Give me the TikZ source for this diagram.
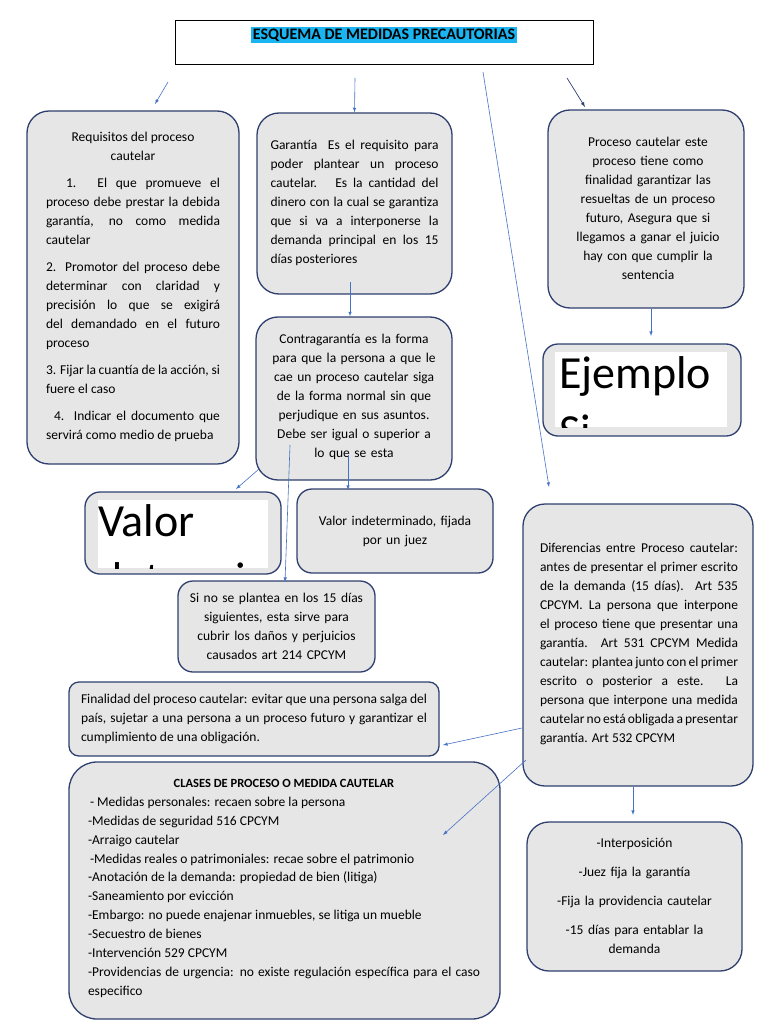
\documentclass[tikz,border=0pt]{standalone}
\usepackage{fontspec}
\setmainfont{Carlito}
\hyphenpenalty=10000
\exhyphenpenalty=10000
\begin{document}
\begin{tikzpicture}[x=1pt,y=-1pt,
 box/.style={draw=navy,line width=1.3pt,fill=boxgray,rounded corners=22pt,inner sep=0pt},
 txt/.style={font=\fontsize{13.5}{19}\selectfont,inner sep=0pt},
 arr/.style={-latex,draw=arrblue,line width=0.6pt}]
\definecolor{navy}{HTML}{2F3F6F}
\definecolor{boxgray}{HTML}{E6E6E6}
\definecolor{arrblue}{HTML}{4472C4}
\useasboundingbox (0,0) rectangle (768,1024);
% title
\node[draw=black,line width=0.6pt,minimum width=418pt,minimum height=44pt] (title) at (384,42) {};
\node[fill=cyan!90!white,inner sep=1.5pt,font=\bfseries\fontsize{16}{18}\selectfont] (tt) at (384,35) {ESQUEMA DE MEDIDAS PRECAUTORIAS};
% boxes
\node[box,minimum width=212pt,minimum height=353pt] (req) at (133,287.5) {};
\node[txt,text width=174pt,align=justify] at (133,287) {%
{\centering Requisitos del proceso\\ cautelar\par}\vspace{8pt}
\hspace*{20pt}1. El que promueve el proceso debe prestar la debida garantía, no como medida cautelar\par\vspace{8pt}
2. Promotor del proceso debe determinar con claridad y precisión lo que se exigirá del demandado en el futuro proceso\par\vspace{8pt}
3. Fijar la cuantía de la acción, si fuere el caso\par\vspace{8pt}
\hspace*{8pt}4. Indicar el documento que servirá como medio de prueba};
\node[box,minimum width=195pt,minimum height=181pt] (gar) at (354.5,203.5) {};
\node[txt,text width=168pt,align=justify] at (354.5,203) {Garantía \ Es el requisito para poder plantear un proceso cautelar. \ Es la cantidad del dinero con la cual se garantiza que si va a interponerse la demanda principal en los 15 días posteriores};
\node[box,minimum width=196pt,minimum height=198pt] (proc) at (646,209) {};
\node[txt,text width=180pt,align=center] at (648,208) {Proceso cautelar este\\ proceso tiene como\\ finalidad garantizar las\\ resueltas de un proceso\\ futuro, Asegura que si\\ llegamos a ganar el juicio\\ hay con que cumplir la\\ sentencia};
\node[box,rounded corners=15pt,minimum width=198pt,minimum height=92pt] (ej) at (642,390) {};
\fill[white] (555,352) rectangle (727,427);
\begin{scope}
\clip (555,352) rectangle (727,427);
\node[anchor=north west,inner sep=0pt,font=\fontsize{46}{58}\selectfont,align=left] at (559,356) {Ejemplo\\Si};
\end{scope}
\node[box,minimum width=196pt,minimum height=163pt] (contra) at (354,398.5) {};
\node[txt,text width=186pt,align=center] at (354,397) {Contragarantía es la forma\\ para que la persona a que le\\ cae un proceso cautelar siga\\ de la forma normal sin que\\ perjudique en sus asuntos.\\ Debe ser igual o superior a\\ lo que se esta};
\node[box,rounded corners=15pt,minimum width=196pt,minimum height=82pt] (valor) at (183,533) {};
\fill[white] (98,500) rectangle (268,568);
\begin{scope}
\clip (98,500) rectangle (268,568);
\node[anchor=north west,inner sep=0pt,font=\fontsize{46}{58}\selectfont,align=left] at (98,504) {Valor\\determinado};
\end{scope}
\node[box,rounded corners=15pt,minimum width=196pt,minimum height=84pt] (vind) at (395,531) {};
\node[txt,text width=170pt,align=center] at (395,531) {Valor indeterminado, fijada\\ por un juez};
\node[box,minimum width=230pt,minimum height=282pt] (dif) at (638,645) {};
\node[txt,text width=198pt,align=justify] at (639,644) {Diferencias entre Proceso cautelar: antes de presentar el primer escrito de la demanda (15 días). Art 535 CPCYM. La persona que interpone el proceso tiene que presentar una garantía. Art 531 CPCYM Medida cautelar: plantea junto con el primer escrito o posterior a este. La persona que interpone una medida cautelar no está obligada a presentar garantía. Art 532 CPCYM};
\node[box,rounded corners=15pt,minimum width=197pt,minimum height=91pt] (sino) at (276.5,626.5) {};
\node[txt,text width=185pt,align=center] at (276.5,626) {Si no se plantea en los 15 días\\ siguientes, esta sirve para\\ cubrir los daños y perjuicios\\ causados art 214 CPCYM};
\node[box,rounded corners=10pt,minimum width=370pt,minimum height=74pt] (fin) at (254,719) {};
\node[txt,text width=346pt,align=justify] at (254,719) {Finalidad del proceso cautelar: evitar que una persona salga del país, sujetar a una persona a un proceso futuro y garantizar el cumplimiento de una obligación.};
\node[box,rounded corners=28pt,minimum width=431pt,minimum height=257pt] (clases) at (284.5,890.5) {};
\node[txt,text width=392pt,align=justify,anchor=north,font=\fontsize{13.5}{18.9}\selectfont] at (284,779) {%
{\centering\bfseries\fontsize{12.5}{18.9}\selectfont CLASES DE PROCESO O MEDIDA CAUTELAR\par}
\hspace*{2pt}- Medidas personales: recaen sobre la persona\par
-Medidas de seguridad 516 CPCYM\par
-Arraigo cautelar\par
\hspace*{2pt}-Medidas reales o patrimoniales: recae sobre el patrimonio\par
-Anotación de la demanda: propiedad de bien (litiga)\par
-Saneamiento por evicción\par
-Embargo: no puede enajenar inmuebles, se litiga un mueble\par
-Secuestro de bienes\par
-Intervención 529 CPCYM\par
-Providencias de urgencia: no existe regulación específica para el caso especifico};
\node[box,minimum width=215pt,minimum height=149pt] (inter) at (634.5,896.5) {};
\node[txt,text width=190pt,align=center,anchor=north] at (634.5,838) {-Interposición\par\vspace{10pt}-Juez fija la garantía\par\vspace{10pt}-Fija la providencia cautelar\par\vspace{10pt}-15 días para entablar la\\ demanda};
% arrows
\draw[arr] (168,82) -- (155,104);
\draw[arr] (355,78) -- (gar.north);
\draw[-latex,draw=navy,line width=0.7pt] (567,78) -- (585,107);
\draw[arr] (483,72) -- (549,487);
\draw[arr] (350,282) -- (contra.north -| 350,0);
\draw[arr] (proc.south -| 651,0) -- (651,336);
\draw[arr] (259,469) -- (236,489);
\draw[arr] (290,445) -- (285,582);
\draw[arr] (348,455) -- (348,490);
\draw[arr] (522,728) -- (443,745);
\draw[arr] (526,760) -- (443,835);
\draw[arr] (dif.south -| 633,0) -- (633,815);
\end{tikzpicture}
\end{document}
